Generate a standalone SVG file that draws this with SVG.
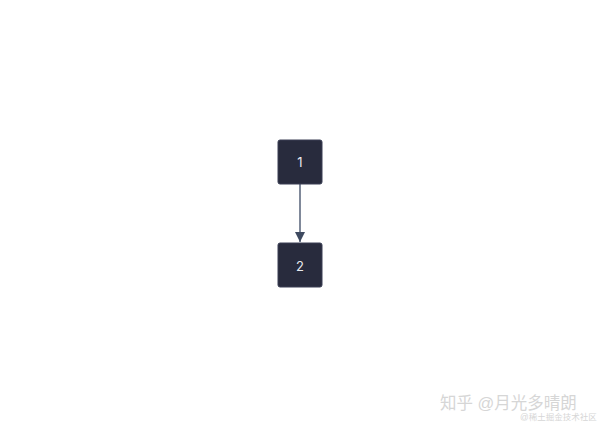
<svg xmlns="http://www.w3.org/2000/svg" width="600" height="428" viewBox="0 0 600 428">
<style>
.node rect{fill:#282b3d;stroke:#3a3f55;stroke-width:1}
.node text{fill:#e8eaf0;font-family:Inter,"Liberation Sans",sans-serif;font-size:13px;text-anchor:middle;dominant-baseline:central}
.edge{stroke:#566278;stroke-width:1.5;fill:none}
.wm{fill:#d6d6d6;font-family:"Liberation Sans","Noto Sans CJK SC",sans-serif}
</style>
<defs>
<marker id="arr" viewBox="0 0 10 10" refX="10" refY="5" markerWidth="10" markerHeight="10" markerUnits="userSpaceOnUse" orient="auto">
<path d="M0,0 L10,5 L0,10 z" fill="#3e4a60"/>
</marker>
</defs>
<rect width="600" height="428" fill="#ffffff"/>
<g id="connectors">
<line class="edge" x1="300" y1="184" x2="300" y2="242" marker-end="url(#arr)"/>
</g>
<g id="node1" class="node">
<rect x="278" y="140" width="44" height="44" rx="2"/>
<text x="300" y="162">1</text>
</g>
<g id="node2" class="node">
<rect x="278" y="243" width="44" height="44" rx="2"/>
<text x="300" y="266">2</text>
</g>
<text class="wm" x="440" y="409" font-size="16.5">知乎 @月光多晴朗</text>
<text class="wm" x="520" y="420" font-size="8.5" fill="#bcbcbc">@稀土掘金技术社区</text>
</svg>
